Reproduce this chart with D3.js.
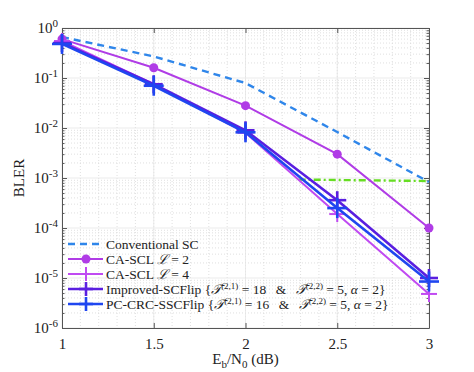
<!DOCTYPE html>
<html>
<head>
<meta charset="utf-8">
<script src="https://cdn.jsdelivr.net/npm/d3@7"></script>
<style>
  body { margin: 0; background: #fff; }
  text { font-family: "Liberation Serif", "DejaVu Serif", serif; }
</style>
</head>
<body>
<div id="chart"></div>
<script>
// chart size and plot box
var width = 474, height = 372;
var margin = { top: 28, right: 45, bottom: 44, left: 62 };

// data
var snr = [1, 1.5, 2, 2.5, 3];
var convSC = [0.66, 0.27, 0.079, 0.0083, 0.00083];
var scl2 = [0.6, 0.16, 0.028, 0.003, 0.0001];
var scl4 = [0.55, 0.075, 0.008, 0.00019, 0.0000048];
var improved = [0.5, 0.075, 0.009, 0.00036, 0.00001];
var pcCrc = [0.48, 0.07, 0.0082, 0.00025, 0.0000085];
var floorX = [2.29, 3];
var floorY = [0.00093, 0.00087];
var xTicks = [1, 1.5, 2, 2.5, 3];
var yTicks = [1, 1e-1, 1e-2, 1e-3, 1e-4, 1e-5, 1e-6];
var yExp = [0, -1, -2, -3, -4, -5, -6];

var series = [
  { name: "Conventional SC", y: convSC, color: "#2f86ea", dash: "7,5", marker: "none", w: 2.4 },
  { name: "CA-SCL", y: scl2, color: "#b03ce6", marker: "circle", w: 2, L: "2" },
  { name: "CA-SCL", y: scl4, color: "#c04af2", marker: "plus", w: 2, L: "4", size: 8 },
  { name: "Improved-SCFlip", y: improved, color: "#5a1ee0", marker: "plus", w: 2.6, T: "18", size: 9 },
  { name: "PC-CRC-SSCFlip", y: pcCrc, color: "#1f46f0", marker: "plus", w: 2.6, T: "16", size: 10 }
];

var svg = d3.select("#chart").append("svg")
  .attr("width", width).attr("height", height);

var x = d3.scaleLinear().domain([1, 3]).range([margin.left, width - margin.right]);
var y = d3.scaleLog().domain([1e-6, 1]).range([height - margin.bottom, margin.top]);

// grid: minor dotted, major solid
var minor = [];
for (var e = -6; e < 0; e++) for (var k = 2; k <= 9; k++) minor.push(k * Math.pow(10, e));
svg.append("g").selectAll("line").data(minor).enter().append("line")
  .attr("x1", x(1)).attr("x2", x(3))
  .attr("y1", d => y(d)).attr("y2", d => y(d))
  .attr("stroke", "#d8d8d8").attr("stroke-width", 0.8).attr("stroke-dasharray", "1,2");
var xMinor = d3.range(1.1, 3, 0.1);
svg.append("g").selectAll("line").data(xMinor).enter().append("line")
  .attr("y1", y(1)).attr("y2", y(1e-6))
  .attr("x1", d => x(d)).attr("x2", d => x(d))
  .attr("stroke", "#d8d8d8").attr("stroke-width", 0.8).attr("stroke-dasharray", "1,2");
svg.append("g").selectAll("line").data(yTicks).enter().append("line")
  .attr("x1", x(1)).attr("x2", x(3))
  .attr("y1", d => y(d)).attr("y2", d => y(d))
  .attr("stroke", "#e6e6e6").attr("stroke-width", 0.8);
svg.append("g").selectAll("line").data(xTicks).enter().append("line")
  .attr("y1", y(1)).attr("y2", y(1e-6))
  .attr("x1", d => x(d)).attr("x2", d => x(d))
  .attr("stroke", "#e6e6e6").attr("stroke-width", 0.8);

// axes with inward ticks
var xAxis = svg.append("g").attr("transform", "translate(0," + y(1e-6) + ")")
  .call(d3.axisBottom(x).tickValues(xTicks).tickSizeInner(-5).tickSizeOuter(0).tickPadding(10)
    .tickFormat(d3.format("")));
svg.append("g").attr("transform", "translate(0," + y(1) + ")")
  .call(d3.axisTop(x).tickValues(xTicks).tickSizeInner(-5).tickSizeOuter(0).tickFormat(""));
svg.append("g").attr("transform", "translate(" + x(1) + ",0)")
  .call(d3.axisLeft(y).tickValues(yTicks).tickSizeInner(-5).tickSizeOuter(0).tickFormat(""));
svg.append("g").attr("transform", "translate(" + x(3) + ",0)")
  .call(d3.axisRight(y).tickValues(yTicks).tickSizeInner(-5).tickSizeOuter(0).tickFormat(""));
// minor ticks on y
[d3.axisLeft, d3.axisRight].forEach(function (ax, i) {
  svg.append("g").attr("transform", "translate(" + (i ? x(3) : x(1)) + ",0)")
    .call(ax(y).tickValues(minor).tickSizeInner(-2.5).tickSizeOuter(0).tickFormat(""))
    .select(".domain").remove();
});
svg.selectAll(".domain").attr("stroke", "#555").attr("stroke-width", 1);
svg.selectAll(".tick line").attr("stroke", "#555");
xAxis.selectAll("text").attr("font-size", 15).attr("fill", "#222")
  .attr("font-family", "Liberation Serif, serif");

// y tick labels as 10^n
var yl = svg.append("g");
yTicks.forEach(function (t, i) {
  var tx = yl.append("text").attr("x", x(1) - 4).attr("y", y(t) + 5)
    .attr("text-anchor", "end").attr("font-size", 15).attr("fill", "#222");
  tx.append("tspan").text("10");
  tx.append("tspan").attr("dy", -6).attr("font-size", 11).text(yExp[i]);
});

// axis labels
var xl = svg.append("text").attr("x", x(2)).attr("y", height - 8)
  .attr("text-anchor", "middle").attr("font-size", 15).attr("fill", "#222");
xl.append("tspan").text("E");
xl.append("tspan").attr("dy", 4).attr("font-size", 11).text("b");
xl.append("tspan").attr("dy", -4).text("/N");
xl.append("tspan").attr("dy", 4).attr("font-size", 11).text("0");
xl.append("tspan").attr("dy", -4).text(" (dB)");
svg.append("text").attr("transform", "translate(24," + y(1e-3) + ") rotate(-90)")
  .attr("text-anchor", "middle").attr("font-size", 15).attr("fill", "#222").text("BLER");

// curves
var line = d3.line().x(d => x(d[0])).y(d => y(d[1]));
svg.append("path").datum(d3.zip(floorX, floorY)).attr("d", line)
  .attr("fill", "none").attr("stroke", "#66dd22").attr("stroke-width", 2.4)
  .attr("stroke-dasharray", "7,3,2,3");

function drawMarker(g, m, s, color, w) {
  if (m === "circle") g.append("circle").attr("r", 4.5).attr("fill", color);
  else if (m === "plus") {
    g.append("line").attr("x1", -s).attr("x2", s).attr("stroke", color).attr("stroke-width", w);
    g.append("line").attr("y1", -s).attr("y2", s).attr("stroke", color).attr("stroke-width", w);
  }
}

series.forEach(function (s) {
  var pts = d3.zip(snr, s.y);
  svg.append("path").datum(pts).attr("d", line)
    .attr("fill", "none").attr("stroke", s.color).attr("stroke-width", s.w)
    .attr("stroke-dasharray", s.dash || null);
  pts.forEach(function (p) {
    var g = svg.append("g").attr("transform", "translate(" + x(p[0]) + "," + y(p[1]) + ")");
    drawMarker(g, s.marker, s.size, s.color, s.w);
  });
});

// legend (no box)
var lg = svg.append("g");
var gap = "\u2002\u2009";
series.forEach(function (s, i) {
  var ly = 244 + i * 15;
  lg.append("line").attr("x1", 68).attr("x2", 103).attr("y1", ly).attr("y2", ly)
    .attr("stroke", s.color).attr("stroke-width", s.w).attr("stroke-dasharray", s.dash || null);
  var g = lg.append("g").attr("transform", "translate(86," + ly + ")");
  drawMarker(g, s.marker, 7, s.color, s.w);
  var t = lg.append("text").attr("x", 106).attr("y", ly + 5).attr("font-size", 13.5).attr("fill", "#222");
  t.append("tspan").text(s.name);
  if (s.L) {
    t.append("tspan").text(" ");
    t.append("tspan").attr("font-style", "italic").text("\u2112");
    t.append("tspan").text(" = " + s.L);
  }
  if (s.T) {
    t.append("tspan").text(" {");
    t.append("tspan").attr("font-style", "italic").text("\uD835\uDCAF");
    t.append("tspan").attr("dy", -5).attr("font-size", 9).text("(2,1)");
    t.append("tspan").attr("dy", 5).text(" = " + s.T + gap + "&" + gap);
    t.append("tspan").attr("font-style", "italic").text("\uD835\uDCAF");
    t.append("tspan").attr("dy", -5).attr("font-size", 9).text("(2,2)");
    t.append("tspan").attr("dy", 5).text(" = 5, ");
    t.append("tspan").attr("font-style", "italic").text("\u03B1");
    t.append("tspan").text(" = 2}");
  }
});
</script>
</body>
</html>
